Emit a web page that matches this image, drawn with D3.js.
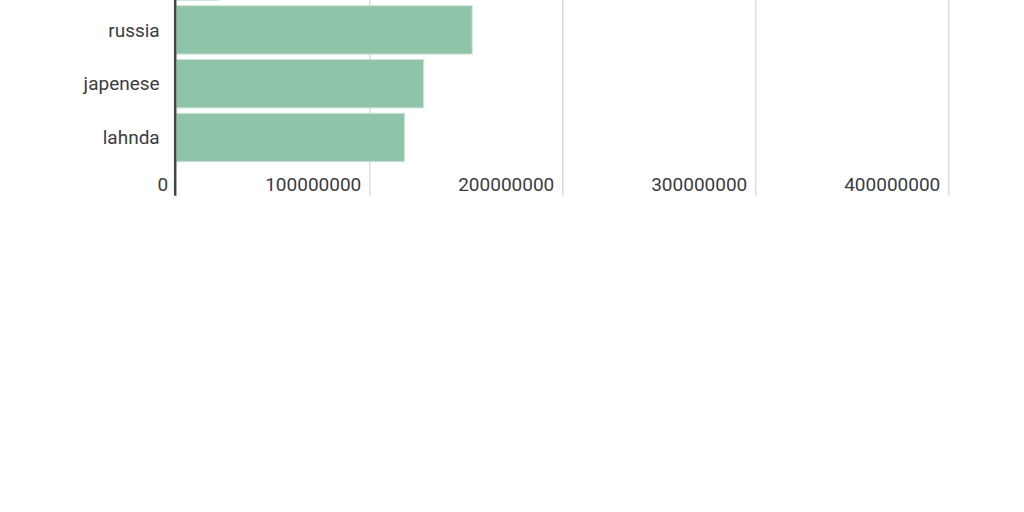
<!DOCTYPE html>
<html>
<head>
<meta charset="utf-8">
<script src="https://cdn.jsdelivr.net/npm/d3@7"></script>
<style>
  html, body { margin: 0; padding: 0; background: #fff; overflow: hidden; }
  svg { display: block; font-family: Roboto, "Noto Sans", sans-serif; }
</style>
</head>
<body>
<svg id="chart" width="1024" height="512"></svg>
<script>
// Data (the chart is scrolled: the first bar is mostly above the window)
const categories = ["portuguese", "russia", "japenese", "lahnda"];
const speakers = [22200000, 153300000, 128200000, 118200000];
const xTicks = [0, 100000000, 200000000, 300000000, 400000000];

const svg = d3.select("#chart");
const x0 = 176.3, xPer100M = 193;
const x = d3.scaleLinear()
  .domain([0, 400000000])
  .range([x0, x0 + 4 * xPer100M]);

const bandTop = -53.5, bandBottom = 167.1;
const y = d3.scaleBand()
  .domain(categories)
  .range([bandTop, bandBottom])
  .paddingInner(0.1)
  .paddingOuter(0.1);

const textColor = "#3c3c3c";

// X axis with full-height grid lines
const xAxis = d3.axisBottom(x)
  .tickValues(xTicks)
  .tickFormat(d3.format("d"))
  .tickSizeOuter(0);

const gx = svg.append("g")
  .attr("transform", `translate(0,${bandBottom})`)
  .call(xAxis);
gx.select(".domain").remove();
gx.selectAll(".tick line")
  .attr("y1", bandTop - bandBottom - 10)
  .attr("y2", 28.6)
  .attr("stroke", "#dadada")
  .attr("stroke-width", 1.4)
  .attr("display", d => d === 0 ? "none" : null);
gx.selectAll(".tick text")
  .attr("x", -8.5)
  .attr("y", 24.3)
  .attr("dy", null)
  .attr("text-anchor", "end")
  .attr("fill", textColor)
  .style("font-size", "19px")
  .style("font-family", "Roboto, sans-serif");

// Bars
svg.append("g")
  .selectAll("rect")
  .data(categories)
  .join("rect")
  .attr("x", x(0))
  .attr("y", d => y(d))
  .attr("width", (d, i) => x(speakers[i]) - x(0))
  .attr("height", y.bandwidth())
  .attr("fill", "#8fc4a8")
  .attr("stroke", "#cce5d8")
  .attr("stroke-width", 1);

// Y axis (labels scrolled above the window are not drawn)
const yAxis = d3.axisLeft(y).tickSize(0).tickPadding(15.5);
const gy = svg.append("g")
  .attr("transform", `translate(${x0 - 1.1},0)`)
  .call(yAxis);
gy.select(".domain").remove();
gy.selectAll(".tick").filter(d => y(d) < 0).remove();
gy.selectAll(".tick text")
  .attr("fill", textColor)
  .attr("dy", "0.35em")
  .style("font-size", "19px")
  .style("font-family", "Roboto, sans-serif");

// Y axis line
svg.append("line")
  .attr("x1", x0 - 1.1).attr("x2", x0 - 1.1)
  .attr("y1", bandTop - 10).attr("y2", bandBottom + 28.6)
  .attr("stroke", "#444")
  .attr("stroke-width", 2.5);
</script>
</body>
</html>
